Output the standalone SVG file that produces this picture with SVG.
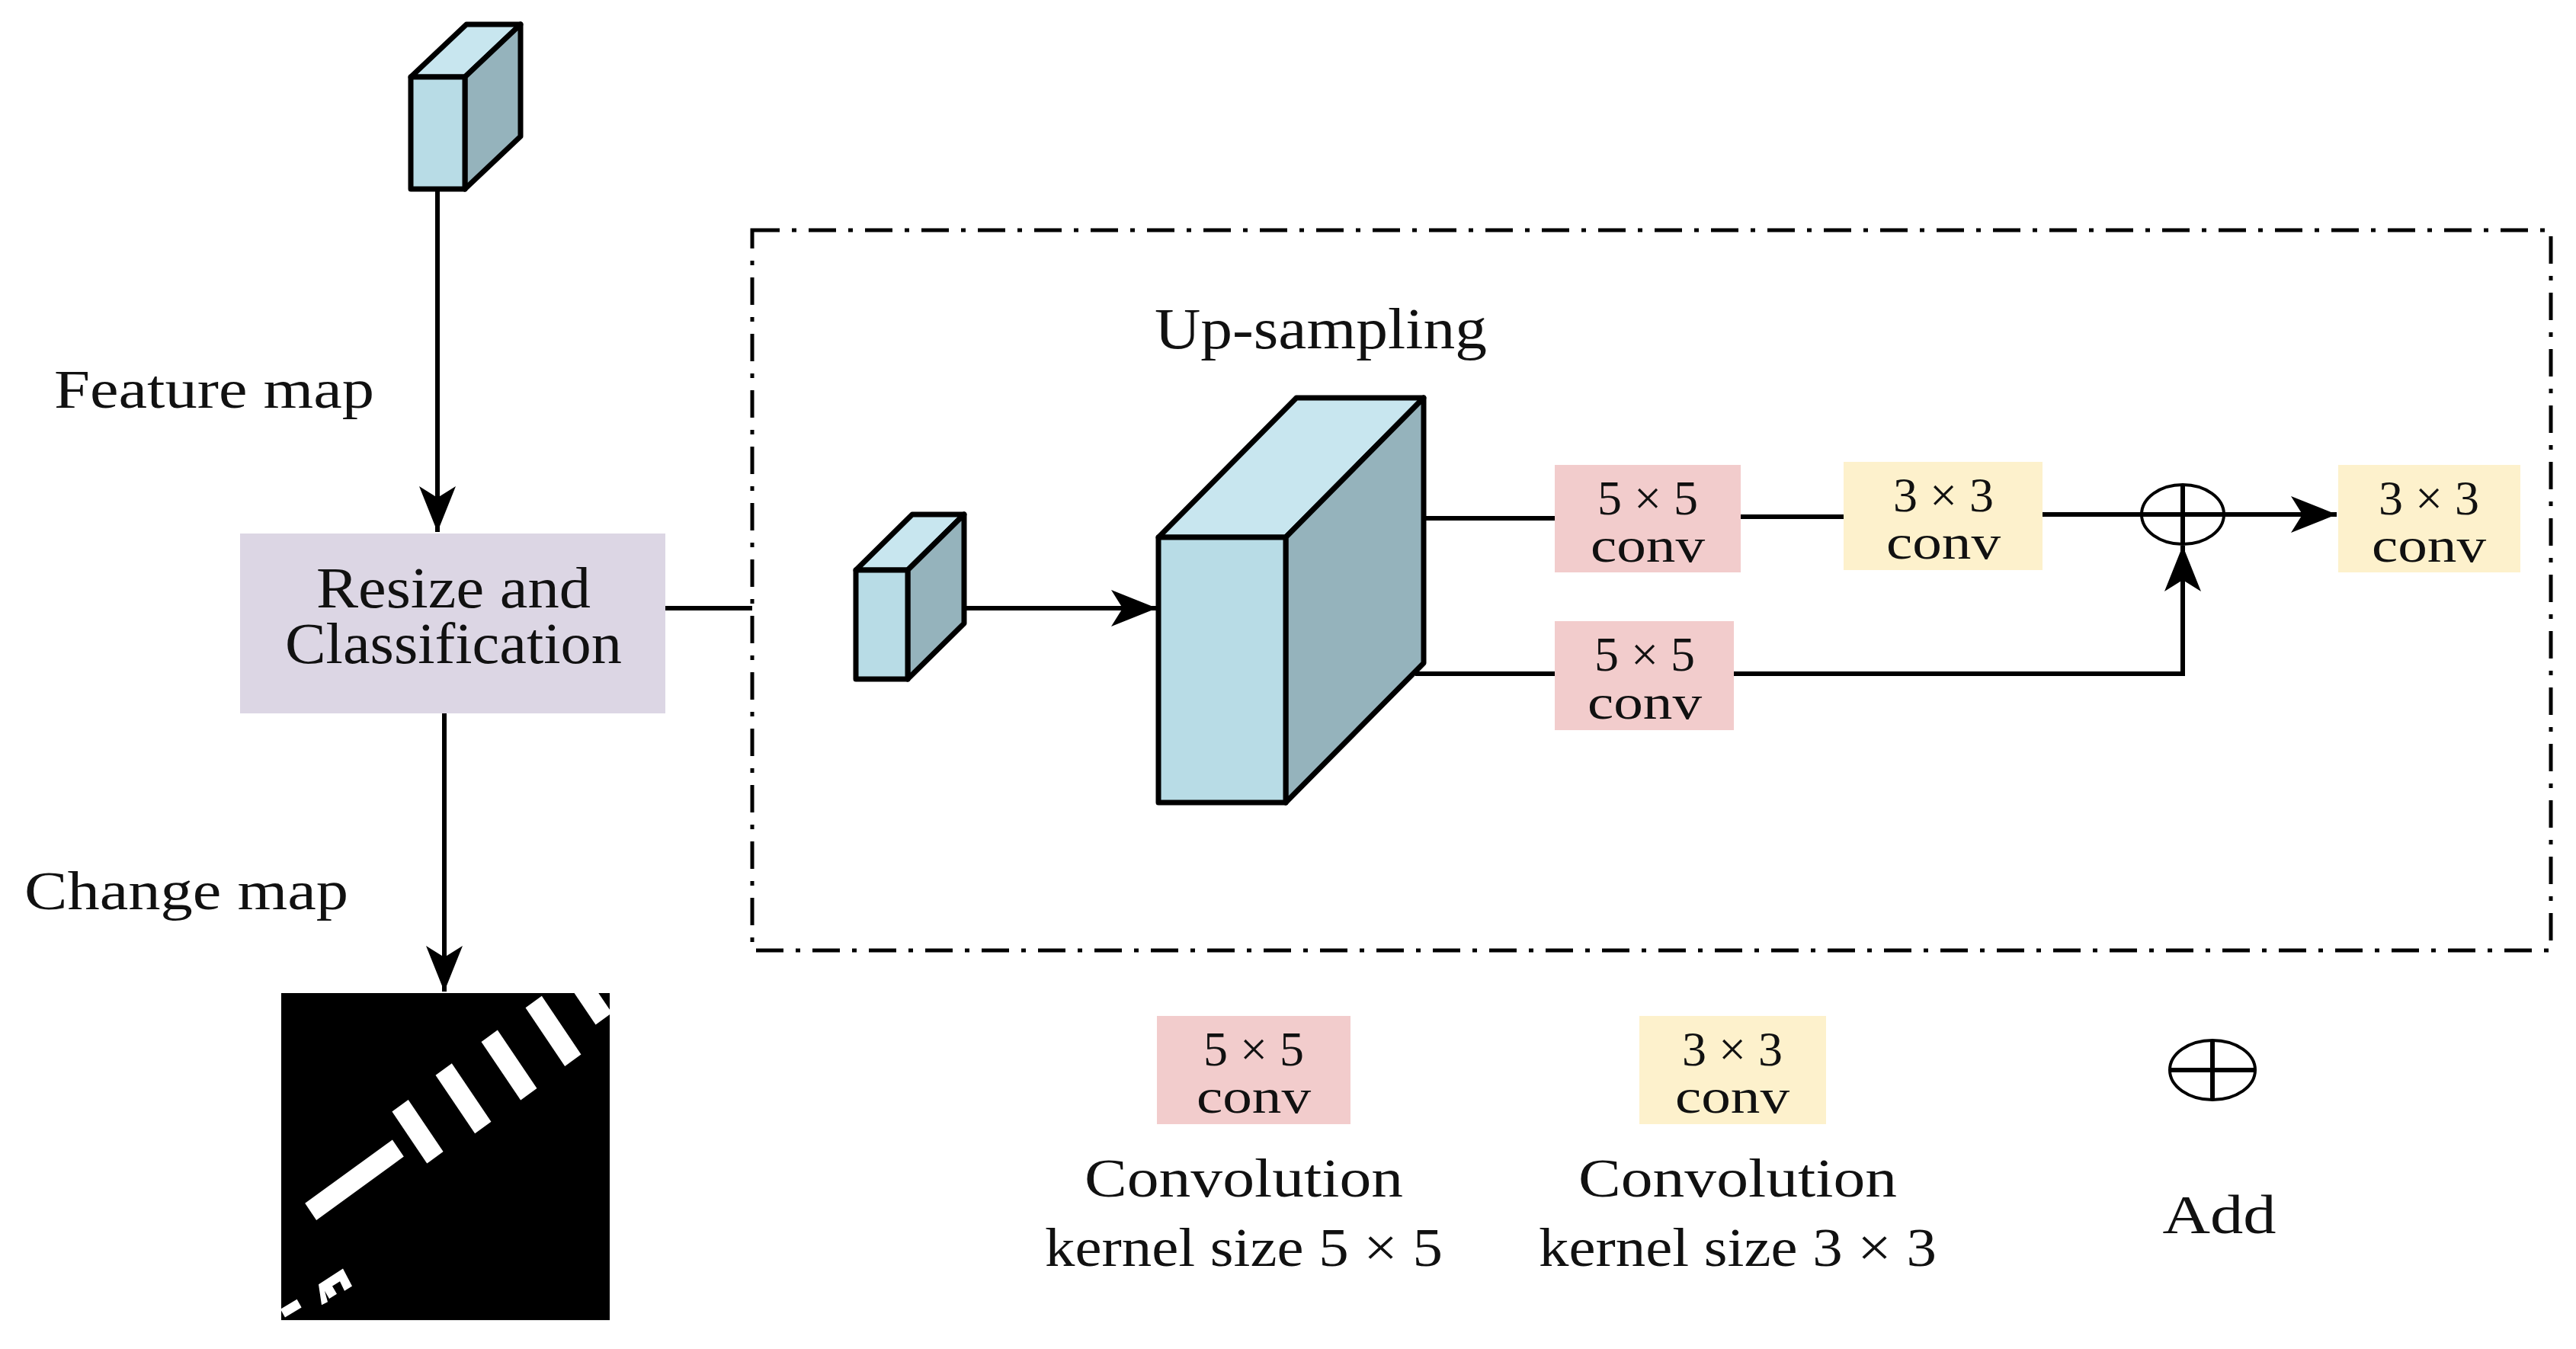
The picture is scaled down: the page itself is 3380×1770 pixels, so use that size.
<svg xmlns="http://www.w3.org/2000/svg" width="3380" height="1770" viewBox="0 0 3380 1770">
<defs>
<style>
.t{font-family:"Liberation Serif","DejaVu Serif",serif;fill:#111;}
.lbl{font-size:72px;}
.bx{font-size:64px;text-anchor:middle;}
.ln{stroke:#000;stroke-width:6;fill:none;}
.front{fill:#b8dce6;stroke:#000;stroke-width:7;stroke-linejoin:round;}
.side{fill:#95b3bc;stroke:#000;stroke-width:7;stroke-linejoin:round;}
.top{fill:#c8e6ef;stroke:#000;stroke-width:7;stroke-linejoin:round;}
.pink{fill:#f2cccc;}
.yel{fill:#fdf1cc;}
</style>
<marker id="a" viewBox="0 0 10 10" refX="10" refY="5" markerWidth="10" markerHeight="10" orient="auto">
<path d="M0,1 L10,5 L0,9 L2.5,5 Z" fill="#000"/>
</marker>
</defs>
<rect width="3380" height="1770" fill="#fff"/>

<g id="connectors">
<line class="ln" x1="574" y1="248" x2="574" y2="698" marker-end="url(#a)"/>
<line class="ln" x1="583" y1="936" x2="583" y2="1301" marker-end="url(#a)"/>
<line class="ln" x1="873" y1="798" x2="987" y2="798"/>
<line class="ln" x1="1268" y1="798" x2="1518" y2="798" marker-end="url(#a)"/>
<line class="ln" x1="1868" y1="680" x2="2040" y2="680"/>
<line class="ln" x1="2284" y1="678" x2="2419" y2="678"/>
<line class="ln" x1="2680" y1="675" x2="3066" y2="675" marker-end="url(#a)"/>
<polyline class="ln" points="1857,884 2040,884"/>
<polyline class="ln" points="2275,884 2864,884 2864,716" marker-end="url(#a)"/>
</g>

<g id="dashed-box">
<rect x="987" y="302" width="2360" height="945" fill="none" stroke="#000" stroke-width="5" stroke-dasharray="36 16 6 16"/>
</g>

<g id="feature-cube">
<polygon class="top" points="539,101 612,32 683,32 610,101"/>
<polygon class="side" points="610,101 683,32 683,179 610,248"/>
<rect class="front" x="539" y="101" width="71" height="147"/>
</g>
<g id="feature-label"><text class="t lbl" x="71" y="535" textLength="420" lengthAdjust="spacingAndGlyphs">Feature map</text></g>

<g id="resize">
<rect x="315" y="700" width="558" height="236" fill="#dcd6e4"/>
<text class="t" x="595" y="797" font-size="76" text-anchor="middle" textLength="360" lengthAdjust="spacingAndGlyphs">Resize and</text>
<text class="t" x="595" y="870" font-size="76" text-anchor="middle" textLength="442" lengthAdjust="spacingAndGlyphs">Classification</text>
</g>

<g id="change-label"><text class="t lbl" x="32" y="1193" textLength="425" lengthAdjust="spacingAndGlyphs">Change map</text></g>

<g id="change-map" transform="translate(0,1303) scale(1,1.039) translate(0,-1242)">
<rect x="369" y="1242" width="431" height="413" fill="#000"/>
<g fill="#fff">
<rect x="-70" y="-13" width="140" height="26" transform="translate(465,1478) rotate(-35)"/>
<rect x="-40" y="-13" width="80" height="26" transform="translate(548,1417) rotate(55)"/>
<rect x="-45" y="-13" width="90" height="26" transform="translate(608,1375) rotate(55)"/>
<rect x="-45" y="-13" width="90" height="26" transform="translate(668,1333) rotate(55)"/>
<rect x="-45" y="-13" width="90" height="26" transform="translate(726,1290) rotate(55)"/>
<rect x="-30" y="-13" width="60" height="26" transform="translate(775,1250) rotate(55)"/>
<path d="M418,1610 L450,1590 L462,1612 L452,1618 L446,1606 L436,1612 L442,1622 L432,1628 L426,1618 L430,1632 L422,1636 Z"/>
<rect x="369" y="1635" width="25" height="12" transform="rotate(-30 380 1640)"/>
</g>
</g>

<g id="small-cube">
<polygon class="top" points="1123,748 1197,675 1265,675 1191,748"/>
<polygon class="side" points="1191,748 1265,675 1265,818 1191,891"/>
<rect class="front" x="1123" y="748" width="68" height="143"/>
</g>

<g id="upsampling-label"><text class="t" x="1515" y="457" font-size="76" textLength="436" lengthAdjust="spacingAndGlyphs">Up-sampling</text></g>

<g id="big-cube">
<polygon class="top" points="1520,705 1701,522 1868,522 1687,705"/>
<polygon class="side" points="1687,705 1868,522 1868,870 1687,1053"/>
<rect class="front" x="1520" y="705" width="167" height="348"/>
</g>

<g id="conv5-top">
<rect class="pink" x="2040" y="610" width="244" height="141"/>
<text class="t bx" x="2162" y="675">5 × 5</text><text class="t bx" x="2162" y="737" textLength="150" lengthAdjust="spacingAndGlyphs">conv</text>
</g>
<g id="conv3-mid">
<rect class="yel" x="2419" y="606" width="261" height="142"/>
<text class="t bx" x="2550" y="671">3 × 3</text><text class="t bx" x="2550" y="733" textLength="150" lengthAdjust="spacingAndGlyphs">conv</text>
</g>
<g id="add">
<ellipse cx="2864" cy="675" rx="54" ry="39" fill="#fff" stroke="#000" stroke-width="4"/>
<line class="ln" x1="2810" y1="675" x2="2918" y2="675"/>
<line class="ln" x1="2864" y1="636" x2="2864" y2="714"/>
</g>
<g id="conv3-out">
<rect class="yel" x="3068" y="610" width="239" height="141"/>
<text class="t bx" x="3187" y="675">3 × 3</text><text class="t bx" x="3187" y="737" textLength="150" lengthAdjust="spacingAndGlyphs">conv</text>
</g>
<g id="conv5-bottom">
<rect class="pink" x="2040" y="815" width="235" height="143"/>
<text class="t bx" x="2158" y="880">5 × 5</text><text class="t bx" x="2158" y="943" textLength="150" lengthAdjust="spacingAndGlyphs">conv</text>
</g>

<g id="legend-conv5">
<rect class="pink" x="1518" y="1333" width="254" height="142"/>
<text class="t bx" x="1645" y="1398">5 × 5</text><text class="t bx" x="1645" y="1460" textLength="150" lengthAdjust="spacingAndGlyphs">conv</text>
<text class="t" x="1632" y="1570" font-size="72" text-anchor="middle" textLength="418" lengthAdjust="spacingAndGlyphs">Convolution</text>
<text class="t" x="1632" y="1661" font-size="72" text-anchor="middle" textLength="522" lengthAdjust="spacingAndGlyphs">kernel size 5 × 5</text>
</g>
<g id="legend-conv3">
<rect class="yel" x="2151" y="1333" width="245" height="142"/>
<text class="t bx" x="2273" y="1398">3 × 3</text><text class="t bx" x="2273" y="1460" textLength="150" lengthAdjust="spacingAndGlyphs">conv</text>
<text class="t" x="2280" y="1570" font-size="72" text-anchor="middle" textLength="418" lengthAdjust="spacingAndGlyphs">Convolution</text>
<text class="t" x="2280" y="1661" font-size="72" text-anchor="middle" textLength="522" lengthAdjust="spacingAndGlyphs">kernel size 3 × 3</text>
</g>
<g id="legend-add">
<ellipse cx="2903" cy="1404" rx="56" ry="39" fill="#fff" stroke="#000" stroke-width="4"/>
<line class="ln" x1="2847" y1="1404" x2="2959" y2="1404"/>
<line class="ln" x1="2903" y1="1365" x2="2903" y2="1443"/>
<text class="t" x="2912" y="1618" font-size="72" text-anchor="middle" textLength="149" lengthAdjust="spacingAndGlyphs">Add</text>
</g>
</svg>
